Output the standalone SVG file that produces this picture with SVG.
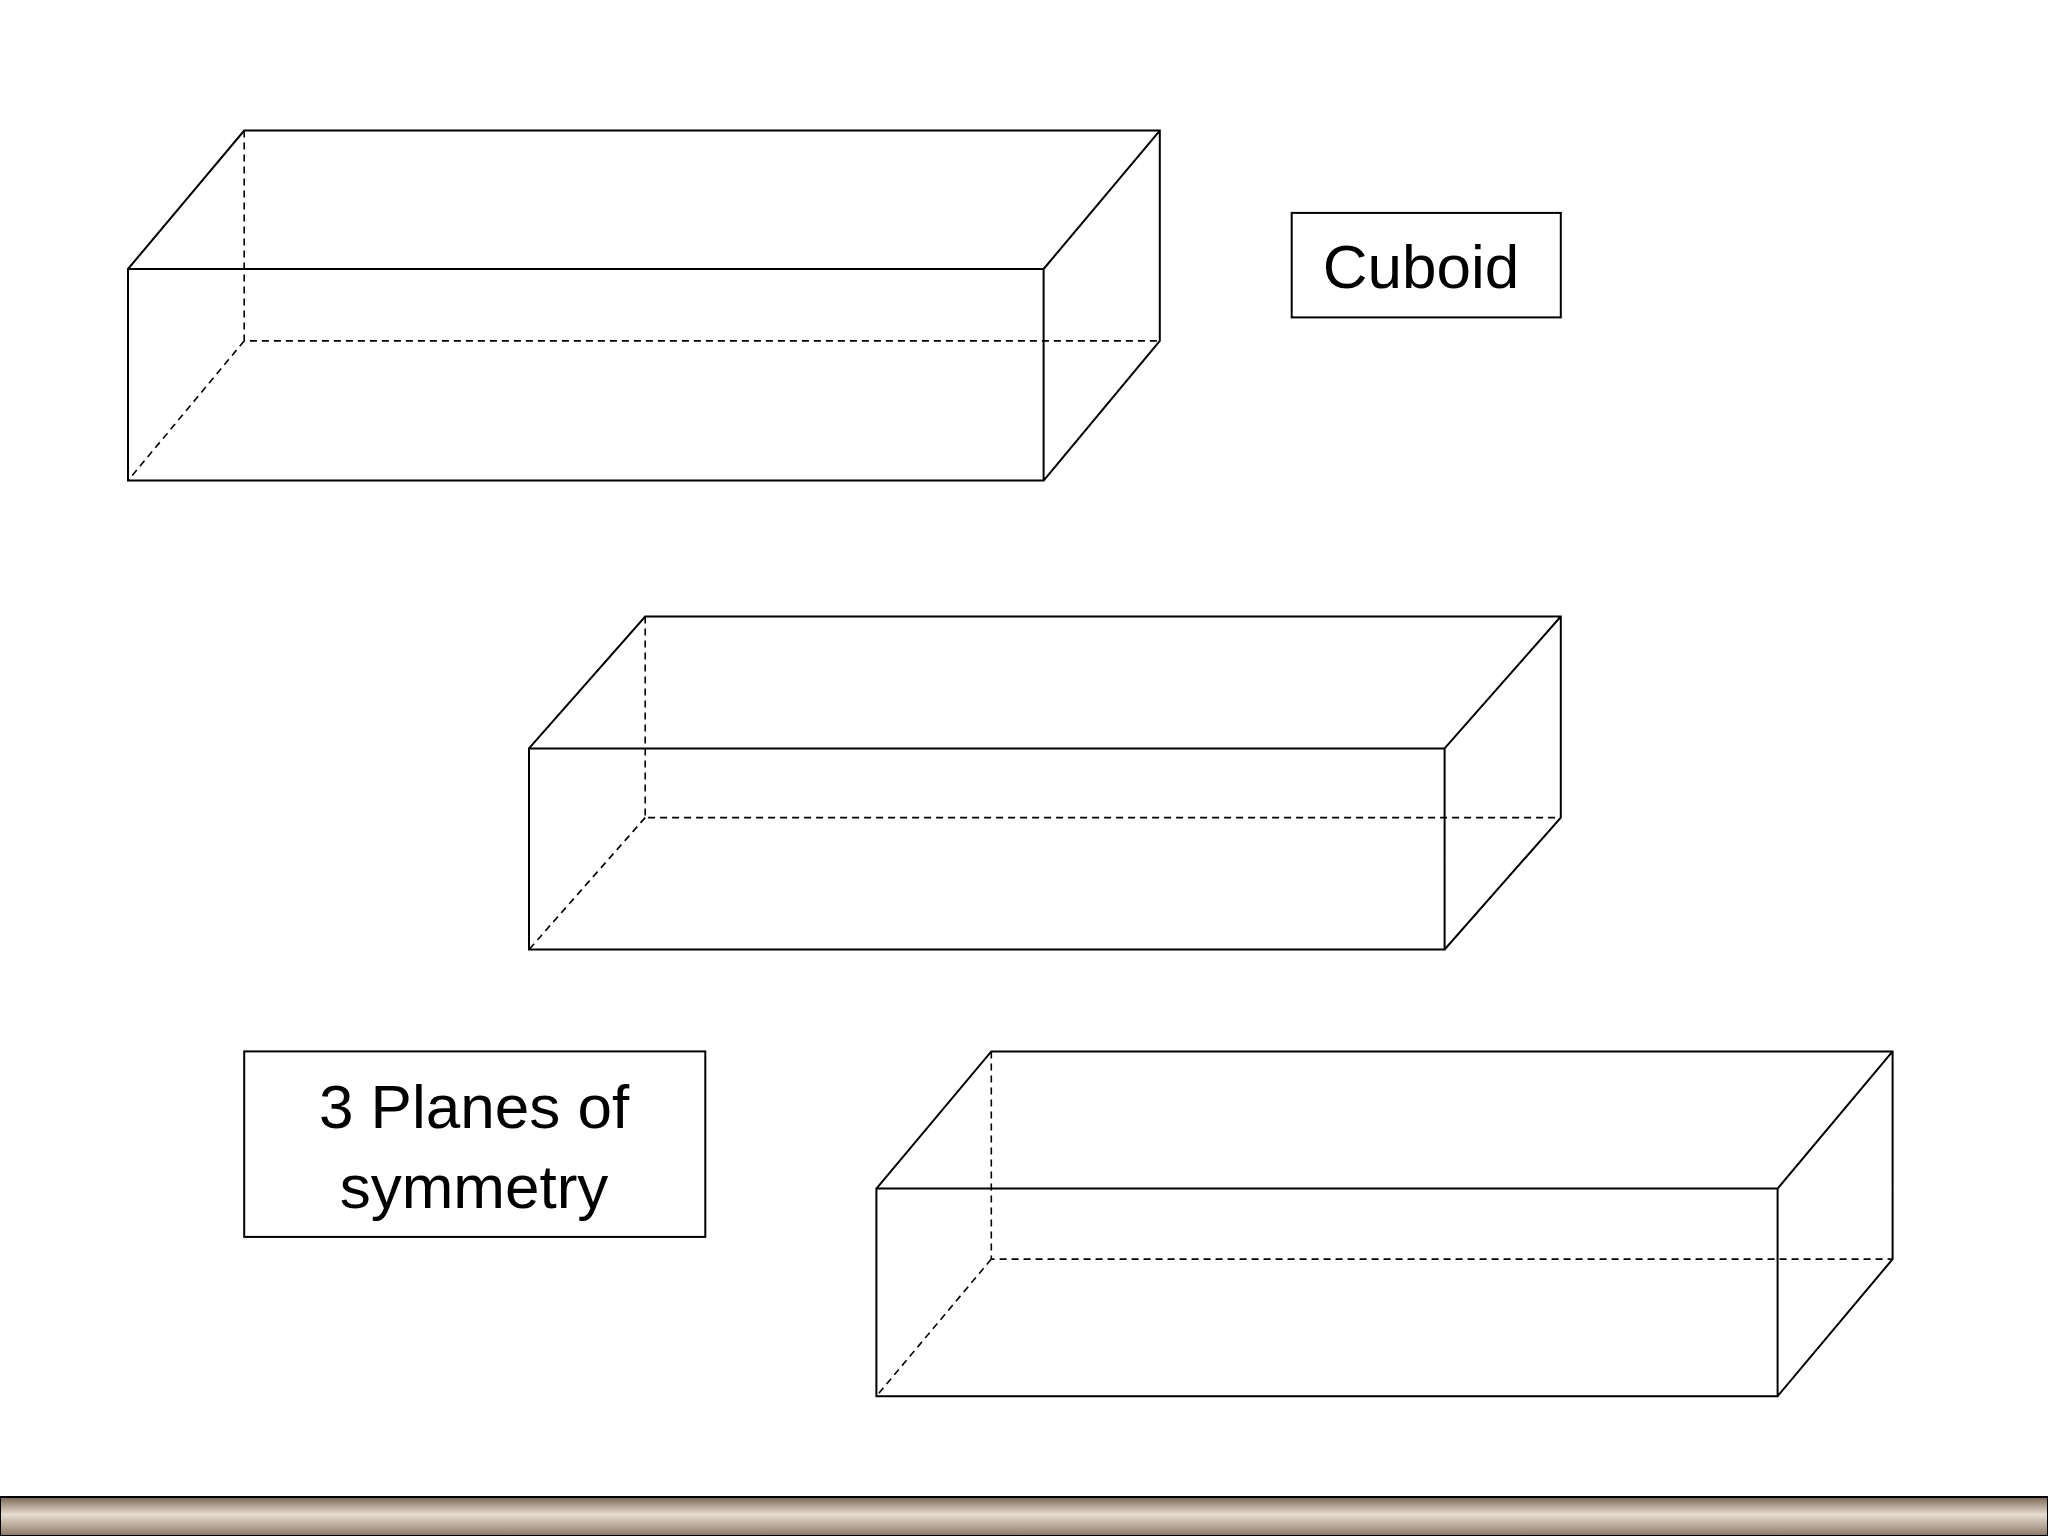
<svg xmlns="http://www.w3.org/2000/svg" width="2048" height="1536" viewBox="0 0 2048 1536">
<style>
.s{stroke:#000;stroke-width:2;fill:none}
.d{stroke:#000;stroke-width:1.6;fill:none;stroke-dasharray:7,5}
.t{font-family:"Liberation Sans",Arial,sans-serif;font-size:62px;text-anchor:middle;fill:#000}
</style>
<defs>
<linearGradient id="g" x1="0" y1="0" x2="0" y2="1">
<stop offset="0" stop-color="#7a6655"/>
<stop offset="0.45" stop-color="#e6dccf"/>
<stop offset="1" stop-color="#8c7866"/>
</linearGradient>
</defs>
<rect width="2048" height="1536" fill="#fff"/>
<g id="cuboid1">
<path class="d" d="M244.2 130.6V340.9H1159.8M244.2 340.9L128 480.6"/>
<path class="s" d="M128 269H1043.6V480.6H128Z M128 269L244.2 130.6H1159.8V340.9L1043.6 480.6 M1043.6 269L1159.8 130.6"/>
</g>
<g id="cuboid2">
<path class="d" d="M645.2 616.5V817.6H1560.8M645.2 817.6L529 949.5"/>
<path class="s" d="M529 748.4H1444.6V949.5H529Z M529 748.4L645.2 616.5H1560.8V817.6L1444.6 949.5 M1444.6 748.4L1560.8 616.5"/>
</g>
<g id="cuboid3">
<path class="d" d="M991.3 1051.4V1259.1H1892.6M991.3 1259.1L876.4 1396.2"/>
<path class="s" d="M876.4 1188.6H1777.6V1396.2H876.4Z M876.4 1188.6L991.3 1051.4H1892.6V1259.1L1777.6 1396.2 M1777.6 1188.6L1892.6 1051.4"/>
</g>
<g id="label-cuboid">
<rect class="s" x="1291.7" y="212.9" width="269.1" height="104.5"/>
<text class="t" x="1421" y="288">Cuboid</text>
</g>
<g id="label-planes">
<rect class="s" x="244.2" y="1051.4" width="461.1" height="185.5"/>
<text class="t" x="474" y="1128">3 Planes of</text>
<text class="t" x="474" y="1208">symmetry</text>
</g>
<g id="connectors"></g>
<rect x="0" y="1497" width="2048" height="39" fill="url(#g)" stroke="#000" stroke-width="2"/>
</svg>
